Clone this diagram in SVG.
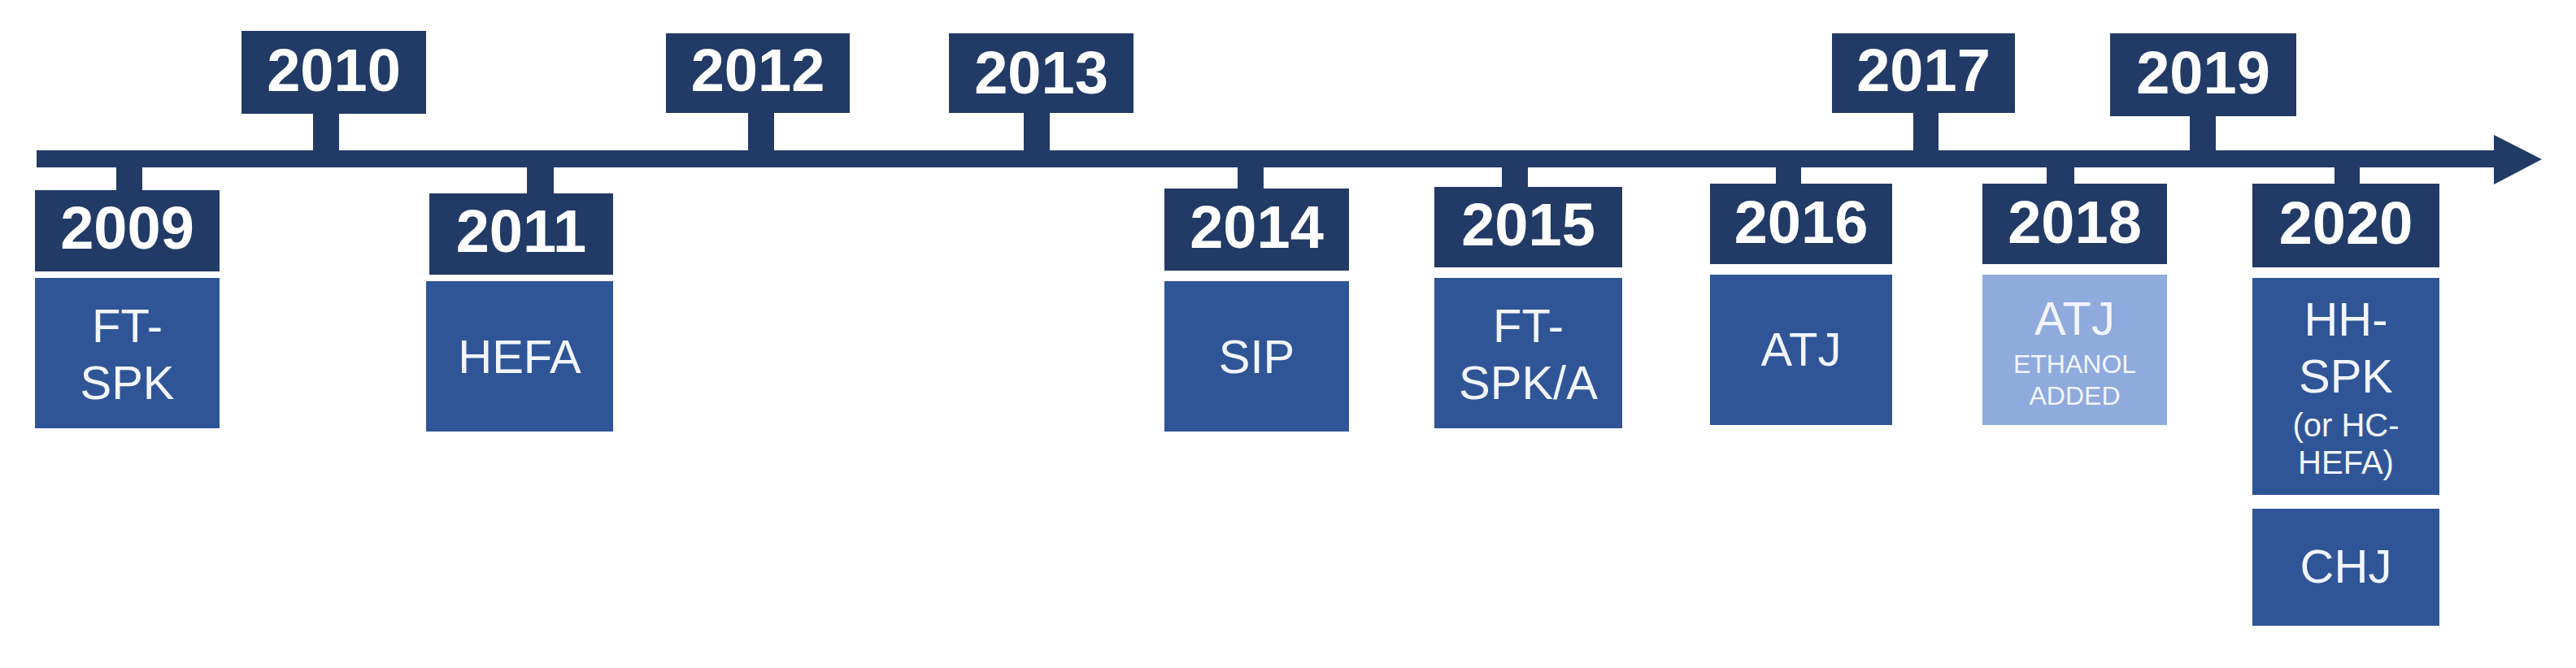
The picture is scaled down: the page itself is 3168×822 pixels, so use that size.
<svg xmlns="http://www.w3.org/2000/svg" width="3168" height="822" viewBox="0 0 3168 822">
<defs>
<style>
.yr{fill:#223a66}
.stem{fill:#223a66}
.box{fill:#2f5597}
.lbox{fill:#8faadc}
.yt{font-family:"Liberation Sans",Arial,sans-serif;font-size:74px;font-weight:bold;fill:#ffffff;text-anchor:middle}
.bt{font-family:"Liberation Sans",Arial,sans-serif;font-size:58px;fill:#f2f5fb;text-anchor:middle}
.st{font-family:"Liberation Sans",Arial,sans-serif;font-size:40px;fill:#f2f5fb;text-anchor:middle}
.xt{font-family:"Liberation Sans",Arial,sans-serif;font-size:32px;fill:#f2f5fb;text-anchor:middle}
</style>
</defs>
<rect width="3168" height="822" fill="#ffffff"/>
<g id="connectors">
<rect x="45" y="185" width="3024" height="21" fill="#223a66"/>
<polygon points="3067,166 3126,196 3067,227" fill="#223a66"/>
<rect class="stem" x="143" y="196" width="32" height="40"/>
<rect class="stem" x="385" y="138" width="32" height="52"/>
<rect class="stem" x="648" y="196" width="33" height="44"/>
<rect class="stem" x="920" y="138" width="32" height="52"/>
<rect class="stem" x="1259" y="138" width="32" height="52"/>
<rect class="stem" x="1522" y="196" width="32" height="38"/>
<rect class="stem" x="1847" y="196" width="32" height="36"/>
<rect class="stem" x="2184" y="196" width="31" height="32"/>
<rect class="stem" x="2353" y="138" width="31" height="52"/>
<rect class="stem" x="2517" y="196" width="34" height="32"/>
<rect class="stem" x="2693" y="142" width="32" height="48"/>
<rect class="stem" x="2871" y="196" width="31" height="32"/>
</g>
<g id="y2009"><rect class="yr" x="43" y="234" width="227" height="100"/><text class="yt" x="156.5" y="306">2009</text></g>
<g id="y2010"><rect class="yr" x="297" y="38" width="227" height="102"/><text class="yt" x="410.5" y="112">2010</text></g>
<g id="y2011"><rect class="yr" x="528" y="238" width="226" height="100"/><text class="yt" x="641" y="310">2011</text></g>
<g id="y2012"><rect class="yr" x="819" y="41" width="226" height="98"/><text class="yt" x="932" y="112">2012</text></g>
<g id="y2013"><rect class="yr" x="1167" y="41" width="227" height="98"/><text class="yt" x="1280.5" y="115">2013</text></g>
<g id="y2014"><rect class="yr" x="1432" y="232" width="227" height="101"/><text class="yt" x="1545.5" y="305">2014</text></g>
<g id="y2015"><rect class="yr" x="1764" y="230" width="231" height="99"/><text class="yt" x="1879.5" y="302">2015</text></g>
<g id="y2016"><rect class="yr" x="2103" y="226" width="224" height="99"/><text class="yt" x="2215" y="299">2016</text></g>
<g id="y2017"><rect class="yr" x="2253" y="41" width="225" height="98"/><text class="yt" x="2365.5" y="112">2017</text></g>
<g id="y2018"><rect class="yr" x="2438" y="226" width="227" height="99"/><text class="yt" x="2551.5" y="299">2018</text></g>
<g id="y2019"><rect class="yr" x="2595" y="41" width="229" height="102"/><text class="yt" x="2709.5" y="115">2019</text></g>
<g id="y2020"><rect class="yr" x="2770" y="226" width="230" height="103"/><text class="yt" x="2885" y="300">2020</text></g>
<g id="ftspk"><rect class="box" x="43" y="342" width="227" height="185"/><text class="bt" x="156.5" y="421">FT-</text><text class="bt" x="156.5" y="491">SPK</text></g>
<g id="hefa"><rect class="box" x="524" y="346" width="230" height="185"/><text class="bt" x="639" y="459">HEFA</text></g>
<g id="sip"><rect class="box" x="1432" y="346" width="227" height="185"/><text class="bt" x="1545.5" y="459">SIP</text></g>
<g id="ftspka"><rect class="box" x="1764" y="342" width="231" height="185"/><text class="bt" x="1879.5" y="421">FT-</text><text class="bt" x="1879.5" y="491">SPK/A</text></g>
<g id="atj"><rect class="box" x="2103" y="338" width="224" height="185"/><text class="bt" x="2215" y="450">ATJ</text></g>
<g id="atjeth"><rect class="lbox" x="2438" y="338" width="227" height="185"/><text class="bt" x="2551.5" y="412">ATJ</text><text class="xt" x="2551.5" y="459">ETHANOL</text><text class="xt" x="2551.5" y="498">ADDED</text></g>
<g id="hhspk"><rect class="box" x="2770" y="342" width="230" height="267"/><text class="bt" x="2885" y="413">HH-</text><text class="bt" x="2885" y="483">SPK</text><text class="st" x="2885" y="537">(or HC-</text><text class="st" x="2885" y="583">HEFA)</text></g>
<g id="chj"><rect class="box" x="2770" y="626" width="230" height="144"/><text class="bt" x="2885" y="717">CHJ</text></g>
</svg>
